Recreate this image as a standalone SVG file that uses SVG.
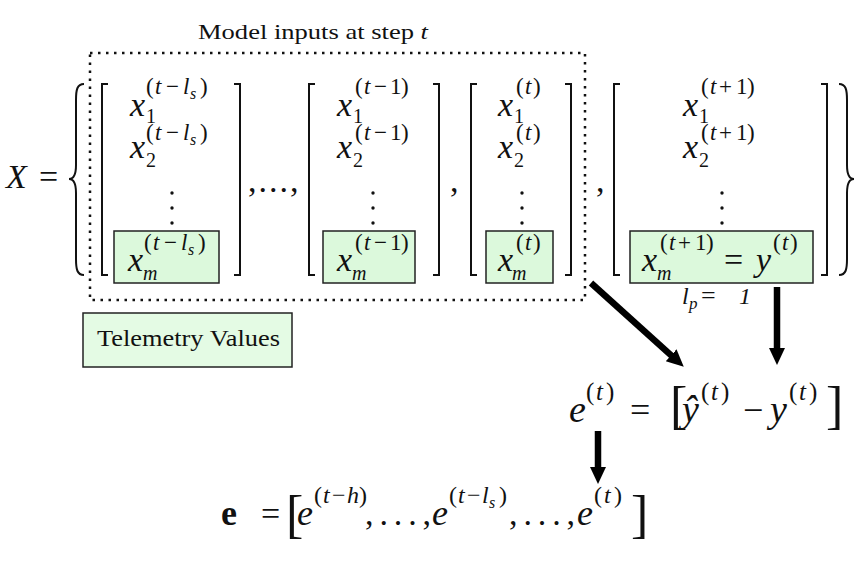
<svg xmlns="http://www.w3.org/2000/svg" width="856" height="568" viewBox="0 0 856 568">
<style>
text{font-family:"Liberation Serif","Times New Roman",serif;fill:#111}
.i{font-style:italic}
.big{font-size:34px}
.sp{font-size:23px}
.sb{font-size:20px}
.ss{font-size:16px}
.delim{fill:none;stroke:#111;stroke-width:2}
.gbox{fill:#dcf9dc;stroke:#222;stroke-width:1.5}
.dot{fill:#111}
.arrow{stroke:#000;stroke-width:6.5;fill:none;marker-end:url(#ah)}
</style>
<defs>
<marker id="ah" markerUnits="userSpaceOnUse" markerWidth="20" markerHeight="18" refX="6" refY="8" orient="auto">
<path d="M0,0 L17,8 L0,16 z" fill="#000"/>
</marker>
</defs>
<rect width="856" height="568" fill="#fff"/>

<g id="title">
<text x="198" y="39" font-size="22" textLength="230" lengthAdjust="spacingAndGlyphs">Model inputs at step <tspan class="i">t</tspan></text>
</g>

<g id="model-inputs-box">
<rect x="90" y="53" width="495" height="247" fill="none" stroke="#111" stroke-width="2.5" stroke-dasharray="2.5 5.5"/>
</g>

<g id="X-lhs">
<text class="i big" x="6" y="188">X</text>
<text class="big" x="39" y="188">=</text>
<path class="delim" stroke-width="2.3" d="M84,84 C77,84 76,90 76,100 L76,165 C76,175 74,179 69,179 C74,179 76,183 76,193 L76,259 C76,269 77,275 84,275"/>
<path class="delim" stroke-width="2.3" d="M839,84 C846,84 847,90 847,100 L847,165 C847,175 849,179 854,179 C849,179 847,183 847,193 L847,259 C847,269 846,275 839,275"/>
</g>

<g id="vector-t-ls">
<path class="delim" d="M108,84 H102 V275 H108 M234,84 H240 V275 H234"/>
<text class="i big" x="130" y="116">x</text>
<text class="sp"><tspan x="146" y="94">(</tspan><tspan class="i" x="155">t</tspan><tspan x="166">−</tspan><tspan class="i" x="183">l</tspan><tspan class="i ss" x="190" y="99">s</tspan><tspan x="200" y="94">)</tspan></text>
<text class="sb" x="146" y="123">1</text>
<text class="i big" x="130" y="158">x</text>
<text class="sp"><tspan x="146" y="140">(</tspan><tspan class="i" x="155">t</tspan><tspan x="166">−</tspan><tspan class="i" x="183">l</tspan><tspan class="i ss" x="190" y="145">s</tspan><tspan x="200" y="140">)</tspan></text>
<text class="sb" x="146" y="167">2</text>
<circle class="dot" cx="172" cy="193" r="1.7"/><circle class="dot" cx="172" cy="208" r="1.7"/><circle class="dot" cx="172" cy="223" r="1.7"/>
<rect class="gbox" x="114" y="231" width="105" height="52"/>
<text class="i big" x="128" y="271">x</text>
<text class="sp"><tspan x="144" y="250">(</tspan><tspan class="i" x="153">t</tspan><tspan x="164">−</tspan><tspan class="i" x="181">l</tspan><tspan class="i ss" x="188" y="255">s</tspan><tspan x="198" y="250">)</tspan></text>
<text class="i sb" x="143" y="280">m</text>
</g>

<text class="big" x="248" y="192" letter-spacing="2">,...,</text>

<g id="vector-t-1">
<path class="delim" d="M315,84 H309 V275 H315 M433,84 H439 V275 H433"/>
<text class="i big" x="337" y="116">x</text>
<text class="sp"><tspan x="355" y="94">(</tspan><tspan class="i" x="364">t</tspan><tspan x="374">−</tspan><tspan x="390">1</tspan><tspan x="401">)</tspan></text>
<text class="sb" x="353" y="123">1</text>
<text class="i big" x="337" y="158">x</text>
<text class="sp"><tspan x="355" y="140">(</tspan><tspan class="i" x="364">t</tspan><tspan x="374">−</tspan><tspan x="390">1</tspan><tspan x="401">)</tspan></text>
<text class="sb" x="353" y="167">2</text>
<circle class="dot" cx="373" cy="193" r="1.7"/><circle class="dot" cx="373" cy="208" r="1.7"/><circle class="dot" cx="373" cy="223" r="1.7"/>
<rect class="gbox" x="323" y="231" width="92" height="52"/>
<text class="i big" x="337" y="271">x</text>
<text class="sp"><tspan x="355" y="250">(</tspan><tspan class="i" x="364">t</tspan><tspan x="374">−</tspan><tspan x="390">1</tspan><tspan x="401">)</tspan></text>
<text class="i sb" x="352" y="280">m</text>
</g>

<text class="big" x="450" y="192">,</text>

<g id="vector-t">
<path class="delim" d="M477,84 H471 V275 H477 M565,84 H571 V275 H565"/>
<text class="i big" x="498" y="116">x</text>
<text class="sp"><tspan x="516" y="94">(</tspan><tspan class="i" x="525">t</tspan><tspan x="533">)</tspan></text>
<text class="sb" x="514" y="123">1</text>
<text class="i big" x="498" y="158">x</text>
<text class="sp"><tspan x="516" y="140">(</tspan><tspan class="i" x="525">t</tspan><tspan x="533">)</tspan></text>
<text class="sb" x="514" y="167">2</text>
<circle class="dot" cx="522" cy="193" r="1.7"/><circle class="dot" cx="522" cy="208" r="1.7"/><circle class="dot" cx="522" cy="223" r="1.7"/>
<rect class="gbox" x="486" y="231" width="67" height="52"/>
<text class="i big" x="498" y="271">x</text>
<text class="sp"><tspan x="516" y="250">(</tspan><tspan class="i" x="525">t</tspan><tspan x="533">)</tspan></text>
<text class="i sb" x="512" y="280">m</text>
</g>

<text class="big" x="596" y="192">,</text>

<g id="vector-t+1">
<path class="delim" d="M620,84 H614 V275 H620 M821,84 H827 V275 H821"/>
<text class="i big" x="683" y="116">x</text>
<text class="sp"><tspan x="701" y="94">(</tspan><tspan class="i" x="710">t</tspan><tspan x="719">+</tspan><tspan x="736">1</tspan><tspan x="747">)</tspan></text>
<text class="sb" x="699" y="123">1</text>
<text class="i big" x="683" y="158">x</text>
<text class="sp"><tspan x="701" y="140">(</tspan><tspan class="i" x="710">t</tspan><tspan x="719">+</tspan><tspan x="736">1</tspan><tspan x="747">)</tspan></text>
<text class="sb" x="699" y="167">2</text>
<circle class="dot" cx="722" cy="193" r="1.7"/><circle class="dot" cx="722" cy="208" r="1.7"/><circle class="dot" cx="722" cy="223" r="1.7"/>
<rect class="gbox" x="630" y="231" width="183" height="52"/>
<text class="i big" x="642" y="271">x</text>
<text class="sp"><tspan x="660" y="250">(</tspan><tspan class="i" x="669">t</tspan><tspan x="678">+</tspan><tspan x="695">1</tspan><tspan x="706">)</tspan></text>
<text class="i sb" x="657" y="280">m</text>
<text class="big" x="724" y="271">=</text>
<text class="i big" x="756" y="271">y</text>
<text class="sp"><tspan x="773" y="250">(</tspan><tspan class="i" x="782">t</tspan><tspan x="790">)</tspan></text>
</g>

<g id="lp-label">
<text class="i" font-size="24" x="682" y="304">l</text>
<text class="i" font-size="17" x="689" y="309">p</text>
<text font-size="26" x="701" y="304">=</text>
<text class="i" font-size="24" x="739" y="304">1</text>
</g>

<g id="telemetry-values">
<rect x="83" y="313" width="209" height="54" fill="#e4fbe4" stroke="#222" stroke-width="1.5"/>
<text x="97" y="346" font-size="24" textLength="183" lengthAdjust="spacingAndGlyphs">Telemetry Values</text>
</g>

<g id="error-t">
<text class="i" font-size="38" x="569" y="422">e</text>
<text font-size="25"><tspan x="586" y="400">(</tspan><tspan class="i" x="596">t</tspan><tspan x="606">)</tspan></text>
<text font-size="36" x="630" y="422">=</text>
<text font-size="52" x="670" y="423">[</text>
<text class="i" font-size="38" x="682" y="422">ŷ</text>
<text font-size="25"><tspan x="701" y="400">(</tspan><tspan class="i" x="711">t</tspan><tspan x="721">)</tspan></text>
<text font-size="36" x="743" y="422">−</text>
<text class="i" font-size="38" x="770" y="422">y</text>
<text font-size="25"><tspan x="789" y="400">(</tspan><tspan class="i" x="799">t</tspan><tspan x="809">)</tspan></text>
<text font-size="52" x="826" y="423">]</text>
</g>

<g id="error-vector">
<text font-size="36" font-weight="bold" x="221" y="525">e</text>
<text font-size="34" x="261" y="525">=</text>
<text font-size="52" x="286" y="532">[</text>
<text class="i" font-size="36" x="297" y="525">e</text>
<text font-size="24"><tspan x="314" y="503">(</tspan><tspan class="i" x="323">t</tspan><tspan x="332">−</tspan><tspan class="i" x="347">h</tspan><tspan x="359">)</tspan></text>
<text font-size="34" x="365" y="525" textLength="66" lengthAdjust="spacing">, . . . ,</text>
<text class="i" font-size="36" x="432" y="525">e</text>
<text font-size="24"><tspan x="449" y="503">(</tspan><tspan class="i" x="458">t</tspan><tspan x="467">−</tspan><tspan class="i" x="482">l</tspan><tspan class="i" font-size="16" x="489" y="508">s</tspan><tspan x="499" y="503">)</tspan></text>
<text font-size="34" x="509" y="525" textLength="66" lengthAdjust="spacing">, . . . ,</text>
<text class="i" font-size="36" x="577" y="525">e</text>
<text font-size="24"><tspan x="594" y="503">(</tspan><tspan class="i" x="604">t</tspan><tspan x="614">)</tspan></text>
<text font-size="52" x="631" y="532">]</text>
</g>

<g id="connectors">
<line class="arrow" x1="591" y1="283" x2="675.6" y2="359.3"/>
<line class="arrow" x1="777" y1="287" x2="777" y2="354"/>
<line class="arrow" x1="598" y1="431" x2="598" y2="473"/>
</g>
</svg>
